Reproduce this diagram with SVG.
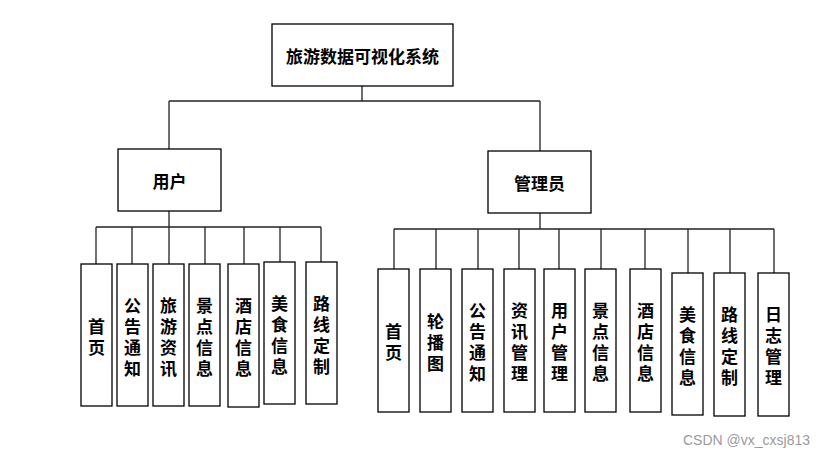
<svg xmlns="http://www.w3.org/2000/svg" width="837" height="457" viewBox="0 0 837 457">
<style>
.box{fill:#fff;stroke:#000;stroke-width:1.3}
.ln{fill:none;stroke:#222;stroke-width:1.3}
.t{font-family:"Noto Sans CJK SC","Noto Sans CJK TC",sans-serif;font-size:17px;font-weight:bold;fill:#000;text-anchor:middle;dominant-baseline:central}
.wm{font-family:"Liberation Sans",Arial,sans-serif;font-size:14px;fill:#9a9a9a}
</style>
<rect width="837" height="457" fill="#fff"/>
<g id="connectors">
<path class="ln" d="M362 86V101M169 101H540M169 101V149M540 101V151"/>
<path class="ln" d="M169 211V227M96 227H321M96 227V264M132 227V264M169 227V264M205 227V264M244 227V264M280 227V262M321 227V262"/>
<path class="ln" d="M540 213V229M394 229H774M394 229V269M436 229V269M478 229V269M519 229V269M559 229V269M601 229V269M645 229V269M688 229V273M730 229V273M774 229V273"/>
</g>
<g id="root"><rect class="box" x="272" y="24" width="181" height="62"/><text class="t" x="362.5" y="55">旅游数据可视化系统</text></g>
<g id="user"><rect class="box" x="118" y="149" width="103" height="62"/><text class="t" x="169.5" y="180">用户</text></g>
<g id="admin"><rect class="box" x="488" y="151" width="103" height="62"/><text class="t" x="539.5" y="182">管理员</text></g>

<g id="u1"><rect class="box" x="81" y="264" width="31" height="142"/><text class="t" x="96.5"><tspan x="96.5" y="324.5">首</tspan><tspan x="96.5" y="345.5">页</tspan></text></g>
<g id="u2"><rect class="box" x="117" y="264" width="31" height="142"/><text class="t"><tspan x="132.5" y="303.5">公</tspan><tspan x="132.5" y="324.5">告</tspan><tspan x="132.5" y="345.5">通</tspan><tspan x="132.5" y="366.5">知</tspan></text></g>
<g id="u3"><rect class="box" x="153" y="264" width="31" height="142"/><text class="t"><tspan x="168.5" y="303.5">旅</tspan><tspan x="168.5" y="324.5">游</tspan><tspan x="168.5" y="345.5">资</tspan><tspan x="168.5" y="366.5">讯</tspan></text></g>
<g id="u4"><rect class="box" x="189" y="264" width="31" height="142"/><text class="t"><tspan x="204.5" y="303.5">景</tspan><tspan x="204.5" y="324.5">点</tspan><tspan x="204.5" y="345.5">信</tspan><tspan x="204.5" y="366.5">息</tspan></text></g>
<g id="u5"><rect class="box" x="228" y="264" width="31" height="143"/><text class="t"><tspan x="243.5" y="304">酒</tspan><tspan x="243.5" y="325">店</tspan><tspan x="243.5" y="346">信</tspan><tspan x="243.5" y="367">息</tspan></text></g>
<g id="u6"><rect class="box" x="264" y="262" width="31" height="142"/><text class="t"><tspan x="279.5" y="301.5">美</tspan><tspan x="279.5" y="322.5">食</tspan><tspan x="279.5" y="343.5">信</tspan><tspan x="279.5" y="364.5">息</tspan></text></g>
<g id="u7"><rect class="box" x="306" y="262" width="31" height="142"/><text class="t"><tspan x="321.5" y="301.5">路</tspan><tspan x="321.5" y="322.5">线</tspan><tspan x="321.5" y="343.5">定</tspan><tspan x="321.5" y="364.5">制</tspan></text></g>

<g id="a1"><rect class="box" x="378" y="269" width="31" height="143"/><text class="t"><tspan x="393.5" y="330">首</tspan><tspan x="393.5" y="351">页</tspan></text></g>
<g id="a2"><rect class="box" x="420" y="269" width="31" height="143"/><text class="t"><tspan x="435.5" y="319.5">轮</tspan><tspan x="435.5" y="340.5">播</tspan><tspan x="435.5" y="361.5">图</tspan></text></g>
<g id="a3"><rect class="box" x="462" y="269" width="31" height="143"/><text class="t"><tspan x="477.5" y="309">公</tspan><tspan x="477.5" y="330">告</tspan><tspan x="477.5" y="351">通</tspan><tspan x="477.5" y="372">知</tspan></text></g>
<g id="a4"><rect class="box" x="504" y="269" width="31" height="143"/><text class="t"><tspan x="519.5" y="309">资</tspan><tspan x="519.5" y="330">讯</tspan><tspan x="519.5" y="351">管</tspan><tspan x="519.5" y="372">理</tspan></text></g>
<g id="a5"><rect class="box" x="544" y="269" width="31" height="143"/><text class="t"><tspan x="559.5" y="309">用</tspan><tspan x="559.5" y="330">户</tspan><tspan x="559.5" y="351">管</tspan><tspan x="559.5" y="372">理</tspan></text></g>
<g id="a6"><rect class="box" x="585" y="269" width="31" height="143"/><text class="t"><tspan x="600.5" y="309">景</tspan><tspan x="600.5" y="330">点</tspan><tspan x="600.5" y="351">信</tspan><tspan x="600.5" y="372">息</tspan></text></g>
<g id="a7"><rect class="box" x="630" y="269" width="31" height="143"/><text class="t"><tspan x="645.5" y="309">酒</tspan><tspan x="645.5" y="330">店</tspan><tspan x="645.5" y="351">信</tspan><tspan x="645.5" y="372">息</tspan></text></g>
<g id="a8"><rect class="box" x="672" y="273" width="31" height="142"/><text class="t"><tspan x="687.5" y="312.5">美</tspan><tspan x="687.5" y="333.5">食</tspan><tspan x="687.5" y="354.5">信</tspan><tspan x="687.5" y="375.5">息</tspan></text></g>
<g id="a9"><rect class="box" x="714" y="273" width="31" height="143"/><text class="t"><tspan x="729.5" y="313">路</tspan><tspan x="729.5" y="334">线</tspan><tspan x="729.5" y="355">定</tspan><tspan x="729.5" y="376">制</tspan></text></g>
<g id="a10"><rect class="box" x="758" y="273" width="31" height="143"/><text class="t"><tspan x="773.5" y="313">日</tspan><tspan x="773.5" y="334">志</tspan><tspan x="773.5" y="355">管</tspan><tspan x="773.5" y="376">理</tspan></text></g>

<text class="wm" x="683" y="445">CSDN @vx_cxsj813</text>
</svg>
